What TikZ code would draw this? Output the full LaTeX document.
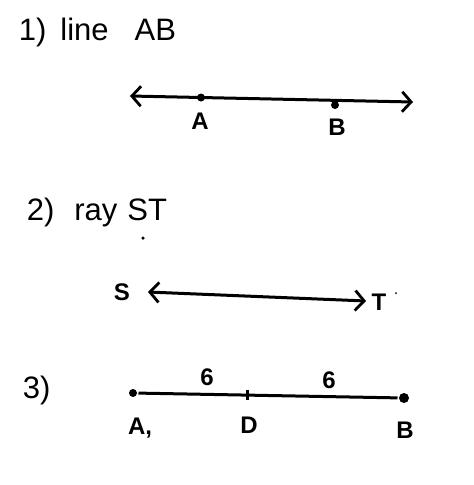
\documentclass[tikz,border=0pt]{standalone}
\usepackage{fontspec}
\setmainfont{Liberation Sans}
\usetikzlibrary{arrows.meta}

\begin{document}
\begin{tikzpicture}
	[x=1pt, y=-1pt, line width=3pt, >={Straight Barb[length=9pt,width=20pt,line width=2.8pt]},
	 pt/.style={circle, fill, inner sep=0pt, minimum size=8pt},
	 speck/.style={circle, fill, inner sep=0pt, minimum size=3.5pt},
	 lbl/.style={font=\fontsize{24}{28}\bfseries\selectfont},
	 ttl/.style={font=\fontsize{31}{35}\selectfont, anchor=west}]
   \useasboundingbox (0,0) rectangle (474,485);
   % 1) line AB
   \node[ttl] (t_1) at (14,32) {1)\hspace{14pt}line\hspace{26pt}AB};
   \coordinate (l_L) at (130,96);
   \coordinate (l_R) at (413,102);
   \node[pt] (l_A) at (201,97.5) {};
   \node[pt] (l_B) at (335,105) {};
   \node[lbl] (lab_A) at (200,121) {A};
   \node[lbl] (lab_B) at (337,127) {B};
   \path[<->] (l_L) edge (l_R);
   % 2) ray ST
   \node[ttl] (t_2) at (22,212) {2)\hspace{20pt}ray\hspace{10pt}ST};
   \node[speck] (s_1) at (143,238) {};
   \node[lbl] (lab_S) at (122,292) {S};
   \node[lbl] (lab_T) at (379,302) {T};
   \node[speck, minimum size=2pt] (s_2) at (396,293) {};
   \coordinate (r_S) at (148,292);
   \coordinate (r_T) at (366,301);
   \path[<->] (r_S) edge (r_T);
   % 3) segment AB with midpoint D
   \node[ttl] (t_3) at (18,390) {3)};
   \node[pt] (g_A) at (133,393) {};
   \node[pt, minimum size=10pt] (g_B) at (404,398) {};
   \coordinate (g_D) at (247,396);
   \path (g_A) edge (g_B);
   \draw ([yshift=-4pt]g_D) -- ([yshift=6pt]g_D);
   \node[lbl] (lab_6a) at (207,377) {6};
   \node[lbl] (lab_6b) at (329,380) {6};
   \node[lbl] (lab_A2) at (140,428) {A,};
   \node[lbl] (lab_D) at (249,425) {D};
   \node[lbl] (lab_B2) at (405,430) {B};
\end{tikzpicture}
\end{document}
